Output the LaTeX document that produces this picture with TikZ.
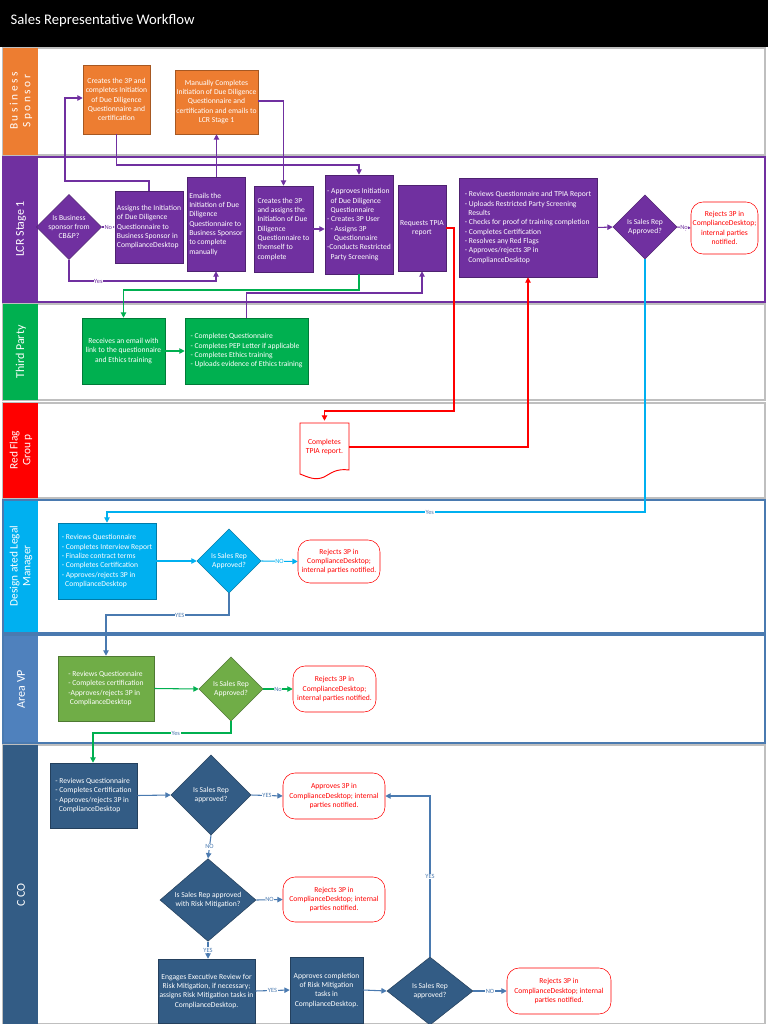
\documentclass[tikz,border=0pt]{standalone}
\usepackage{fontspec}
\setmainfont{Carlito}
\usetikzlibrary{shapes.geometric,arrows.meta,calc}
\definecolor{cOr}{HTML}{ED7D31}
\definecolor{cPu}{HTML}{7030A0}
\definecolor{cGr}{HTML}{00B050}
\definecolor{cRd}{HTML}{FF0000}
\definecolor{cCy}{HTML}{00B0F0}
\definecolor{cSt}{HTML}{4F81BD}
\definecolor{cLg}{HTML}{70AD47}
\definecolor{cDb}{HTML}{335C85}
\definecolor{cLn}{HTML}{4A7AB0}
\begin{document}
\begin{tikzpicture}[x=0.75pt,y=-0.75pt,
  sz/.style 2 args={minimum width=#1*0.75pt,minimum height=#2*0.75pt},
  box/.style={draw=#1!70!black,fill=#1,text=white,inner sep=1pt,font=\fontsize{5.7}{7}\selectfont,align=center},
  lbox/.style={box=#1,align=left},
  dia/.style={diamond,draw=#1!70!black,fill=#1,text=white,inner sep=0pt,font=\fontsize{5.7}{7}\selectfont,align=center},
  term/.style={draw=cRd,fill=white,text=cRd,rounded corners=9pt,font=\fontsize{5.7}{7}\selectfont,align=center,inner sep=1pt},
  arr/.style={draw=#1,line width=0.8pt,-{Triangle[length=4pt,width=4pt]}},
  lab/.style={fill=white,inner sep=0.5pt,text=#1,font=\fontsize{4.8}{5}\selectfont}
]
\useasboundingbox (0,0) rectangle (768,1024);
\fill[white] (0,0) rectangle (768,1024);
% title
\fill[black] (0,0) rectangle (768,47);
\node[anchor=west,text=white,font=\fontsize{11}{12}\selectfont] (title) at (6,21) {Sales Representative Workflow};
% lanes
\foreach \a/\b/\c in {48/155/cOr,157/302/cPu,304/400/cGr,403/498/cRd,500/633/cCy,635/743/cSt,745/1024/cDb}{
  \draw[gray!50,line width=1pt] (3,\a) rectangle (765,\b);
  \fill[\c] (3,\a) rectangle (38,\b);
}
\draw[cPu,line width=0.8pt] (3,157) rectangle (765,302);
\draw[cLn,line width=0.8pt] (3,500) rectangle (765,633);
\draw[cLn,line width=0.8pt] (3,635) rectangle (765,743);
\node[rotate=90,text=white,font=\fontsize{8.5}{9.5}\selectfont,align=center] (t1) at (21,101) {B u s i n e s s\\S p o n s o r};
\node[rotate=90,text=white,font=\fontsize{9}{10}\selectfont] (t2) at (21,229) {LCR Stage 1};
\node[rotate=90,text=white,font=\fontsize{9}{10}\selectfont] (t3) at (21,352) {Third Party};
\node[rotate=90,text=white,font=\fontsize{8.5}{9.5}\selectfont,align=center] (t4) at (21,450) {Red Flag\\Grou p};
\node[rotate=90,text=white,font=\fontsize{8.5}{9.5}\selectfont,align=center] (t5) at (21,566) {Design ated Legal\\Manager};
\node[rotate=90,text=white,font=\fontsize{9}{10}\selectfont] (t6) at (21,689) {Area VP};
\node[rotate=90,text=white,font=\fontsize{9}{10}\selectfont] (t7) at (21,895) {C CO};

% Business sponsor
\node[box=cOr,sz={67}{69}] (BS1) at (116.5,99.5) {Creates the 3P and\\completes Initiation\\of Due Diligence\\Questionnaire and\\certification};
\node[box=cOr,sz={83}{64}] (BS2) at (216.5,102) {Manually Completes\\Initiation of Due Diligence\\Questionnaire and\\certification and emails to\\LCR Stage 1};
% LCR
\node[dia=cPu,sz={60}{62}] (LD) at (69,227) {Is Business\\sponsor from\\CB\&P?};
\node[lbox=cPu,sz={68}{72}] (L1) at (149,227) {Assigns the Initiation\\of Due Diligence\\Questionnaire to\\Business Sponsor in\\ComplianceDesktop};
\node[lbox=cPu,sz={58}{94}] (L2) at (216,224) {Emails the\\Initiation of Due\\Diligence\\Questionnaire to\\Business Sponsor\\to complete\\manually};
\node[lbox=cPu,sz={59}{86}] (L3) at (283.5,229) {Creates the 3P\\and assigns the\\Initiation of Due\\Diligence\\Questionnaire to\\themself to\\complete};
\node[lbox=cPu,sz={68}{99}] (L4) at (359,224.5) {- Approves Initiation\\\ \ of Due Diligence\\\ \ Questionnaire\\- Creates 3P User\\\ \ - Assigns 3P\\\ \ \ \ Questionnaire\\-Conducts Restricted\\\ \ Party Screening};
\node[box=cPu,sz={48}{86}] (L5) at (422,228) {Requests TPIA\\report};
\node[lbox=cPu,sz={138}{99}] (L6) at (528,227.5) {- Reviews Questionnaire and TPIA Report\\- Uploads Restricted Party Screening\\\ \ Results\\- Checks for proof of training completion\\- Completes Certification\\- Resolves any Red Flags\\- Approves/rejects 3P in\\\ \ ComplianceDesktop};
\node[dia=cPu,sz={64}{64}] (L7) at (645,227) {Is Sales Rep\\Approved?};
\node[term,sz={67}{52}] (L8) at (724.5,228) {Rejects 3P in\\ComplianceDesktop;\\internal parties\\notified.};
% Third party
\node[box=cGr,sz={83}{66}] (TP1) at (123.5,351) {Receives an email with\\link to the questionnaire\\and Ethics training};
\node[lbox=cGr,sz={123}{66}] (TP2) at (246.5,351) {- Completes Questionnaire\\- Completes PEP Letter if applicable\\- Completes Ethics training\\- Uploads evidence of Ethics training};
% Red flag
\node[sz={49}{52},text=cRd,font=\fontsize{5.7}{7}\selectfont,align=center,inner sep=0pt] (RF) at (324.5,447) {Completes\\TPIA report.};
\draw[cRd,line width=0.7pt] (300,423) -- (349,423) -- (349,470) .. controls (336,468) and (330,474) .. (324,477) .. controls (315,481) and (308,477) .. (300,474) -- cycle;
% DLM
\node[lbox=cCy,sz={98}{76}] (D1) at (107,561) {- Reviews Questionnaire\\- Completes Interview Report\\- Finalize contract terms\\- Completes Certification\\- Approves/rejects 3P in\\\ \ ComplianceDesktop};
\node[dia=cCy,sz={64}{64}] (DD) at (229,561) {Is Sales Rep\\Approved?};
\node[term,sz={82}{43}] (DR) at (339,561.5) {Rejects 3P in\\ComplianceDesktop;\\internal parties notified.};
% Area VP
\node[lbox=cLg,sz={96}{65}] (A1) at (106,688.5) {- Reviews Questionnaire\\- Completes certification\\-Approves/rejects 3P in\\\ ComplianceDesktop};
\node[dia=cLg,sz={64}{64}] (AD) at (231,689) {Is Sales Rep\\Approved?};
\node[term,sz={83}{46}] (AR) at (334.5,689) {Rejects 3P in\\ComplianceDesktop;\\internal parties notified.};
% CCO
\node[lbox=cDb,sz={87}{65}] (C1) at (93.5,795.5) {- Reviews Questionnaire\\- Completes Certification\\- Approves/rejects 3P in\\\ \ ComplianceDesktop};
\node[dia=cDb,sz={80}{80}] (CD1) at (211,795) {Is Sales Rep\\approved?};
\node[term,sz={102}{46}] (CA) at (334,796) {Approves 3P in\\ComplianceDesktop; internal\\parties notified.};
\node[dia=cDb,sz={96}{70}] (CD2) at (208,900) {Is Sales Rep approved\\with Risk Mitigation?};
\node[term,sz={102}{45}] (CR2) at (334,899.5) {Rejects 3P in\\ComplianceDesktop; internal\\parties notified.};
\node[box=cDb,sz={97}{64}] (C3) at (206.5,991) {Engages Executive Review for\\Risk Mitigation, if necessary;\\assigns Risk Mitigation tasks in\\ComplianceDesktop.};
\node[box=cDb,sz={73}{66}] (C4) at (326.5,990) {Approves completion\\of Risk Mitigation\\tasks in\\ComplianceDesktop.};
\node[dia=cDb,sz={86}{68}] (CD3) at (430,991) {Is Sales Rep\\approved?};
\node[term,sz={104}{46}] (CR3) at (559,991) {Rejects 3P in\\ComplianceDesktop; internal\\parties notified.};

% helper coordinates
\coordinate (y98) at (0,98);
\coordinate (y165) at (0,165);
\coordinate (y181) at (0,181);
\coordinate (y101) at (0,101);
\coordinate (y281) at (0,281);
\coordinate (y290) at (0,290);
\coordinate (y293) at (0,293);
\coordinate (y411) at (0,411);
\coordinate (y512) at (0,512);
\coordinate (y615) at (0,615);
\coordinate (y733) at (0,733);
\coordinate (x65) at (65,0);
\coordinate (x106) at (106,0);
\coordinate (x93) at (93,0);
\coordinate (x454) at (454,0);

% LCR connectors
\draw[arr=cPu] (LD.east) -- node[lab=cPu]{No} (L1.west);
\draw[arr=cPu] (LD.south) |- (L2.south |- y281) node[lab=cPu,pos=0.6]{Yes} -- (L2.south);
\draw[arr=cPu] (L1.north) -- (L1.north |- y181) -| (x65 |- y98) -- (BS1.west |- y98);
\draw[arr=cPu] (L2.north) -- (L2.north -| BS2.south) -- (BS2.south);
\draw[arr=cPu] (BS1.south) -- (BS1.south |- y165) -| (L4.north);
\draw[arr=cPu] (BS2.east |- y101) -| (L3.north);
\draw[arr=cPu] (L3.east) -- (L3.east -| L4.west);
\draw[arr=cGr] (L4.south) -- (L4.south |- y290) -| (TP1.north);
\draw[arr=cPu] (TP2.north) -- (TP2.north |- y293) -| (L5.south);
\draw[arr=cGr] (TP1.east) -- (TP2.west);
\draw[arr=cRd] (L5.east) -| (x454 |- y411) -| (RF.north);
\draw[arr=cRd] (RF.east) -| (L6.south);
\draw[arr=cPu] (L6.east) -- (L7.west);
\draw[arr=cPu] (L7.east) -- node[lab=cPu]{No} (L8.west);
\draw[arr=cCy] (L7.south) |- node[lab=cLn,pos=0.7]{Yes} (D1.north |- y512) -- (D1.north);
% DLM
\draw[arr=cCy] (D1.east) -- (DD.west);
\draw[arr=cCy] (DD.east) -- node[lab=cCy]{NO} (DR.west);
\draw[arr=cLn] (DD.south) |- node[lab=cLn,pos=0.7]{YES} (x106 |- y615) -- (A1.north -| x106);
% Area VP
\draw[arr=cGr] (A1.east) -- (AD.west);
\draw[arr=cGr] (AD.east) -- node[lab=cLn]{No} (AR.west);
\draw[arr=cGr] (AD.south) |- node[lab=cLn,pos=0.7]{Yes} (x93 |- y733) -- (C1.north -| x93);
% CCO
\draw[arr=cLn] (C1.east) -- (CD1.west);
\draw[arr=cLn] (CD1.east) -- node[lab=cLn]{YES} (CA.west);
\draw[arr=cLn] (CD1.south) -- node[lab=cLn]{NO} (CD2.north);
\draw[arr=cLn] (CD2.east) -- node[lab=cLn]{NO} (CR2.west);
\draw[arr=cLn] (CD2.south) -- node[lab=cLn]{YES} (C3.north -| CD2.south);
\draw[arr=cLn] (C3.east) -- node[lab=cLn]{YES} (C4.west);
\draw[arr=cLn] (C4.east) -- (CD3.west);
\draw[arr=cLn] (CD3.east) -- node[lab=cLn]{NO} (CR3.west);
\draw[arr=cLn] (CD3.north) |- node[lab=cLn,pos=0.25]{YES} (CA.east);
\end{tikzpicture}
\end{document}
